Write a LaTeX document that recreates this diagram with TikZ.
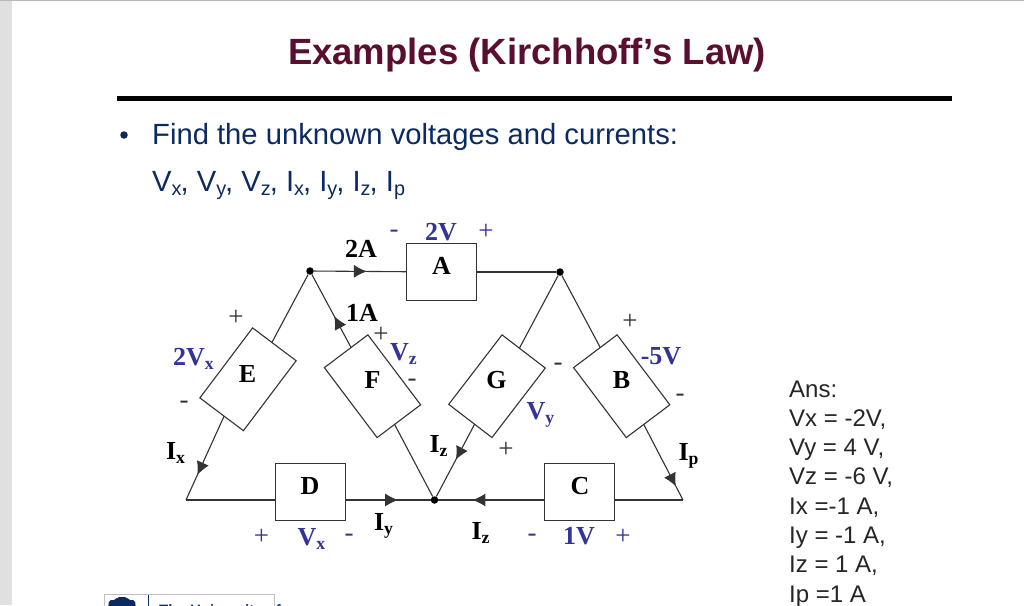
\documentclass[tikz,border=0pt]{standalone}
\usepackage{fontspec}
\usetikzlibrary{arrows.meta,decorations.markings}
\setmainfont{Liberation Sans}
\newfontfamily\circfont{Liberation Serif}
\definecolor{titlered}{HTML}{5A0F30}
\definecolor{slidenavy}{HTML}{0B2A60}
\definecolor{voltblue}{HTML}{333399}
\definecolor{wiregray}{HTML}{333333}
\newcommand{\lowsub}[1]{\raisebox{-0.3ex}{\fontsize{0.68em}{0.68em}\selectfont #1}\kern-1pt}
\tikzset{
  wire/.style={draw=wiregray, line width=1.1pt},
  flowat/.style={postaction={decorate}, decoration={markings, mark=at position #1 with {\arrow{Latex[length=13pt,width=13pt]}}}},
  junction/.style={circle, fill=black, inner sep=0pt, minimum size=7.5pt},
  elembox/.style={draw=wiregray, line width=1.2pt, fill=white, rectangle, inner sep=0pt, outer sep=0pt, minimum width=69.5pt, minimum height=57pt},
  tiltbox/.style={draw=wiregray, line width=1.1pt, fill=white, rectangle, inner sep=0pt, outer sep=0pt, minimum width=87.6pt, minimum height=54.5pt},
  elemlabel/.style={inner sep=0pt, font=\circfont\bfseries\fontsize{26}{26}\selectfont},
  amplabel/.style={elemlabel, text=black},
  voltlabel/.style={elemlabel, text=voltblue},
  signlabel/.style={inner sep=0pt, text=#1, font=\circfont\fontsize{27}{27}\selectfont},
  anslabel/.style={anchor=base west, inner sep=0pt, text=black!85, font=\fontsize{24}{24}\selectfont},
}
\begin{document}
\begin{tikzpicture}[x=1pt, y=-1pt]
\useasboundingbox (0, 0) rectangle (1024, 605);
\fill[white] (0, 0) rectangle (1024, 605);
%Slide edge
\fill[black!12] (0, 0) rectangle (12, 605);
\fill[black!28] (0, 0) rectangle (1024, 1.2);
%Heading
\node (title) [inner sep=0pt, text=titlered, font=\bfseries\fontsize{36.5}{36.5}\selectfont] at (527, 55) {Examples (Kirchhoff’s Law)};
\fill[black] (117, 96) rectangle (952, 100.5);
\node (bullet) [circle, fill=slidenavy, inner sep=0pt, minimum size=7.5pt] at (124, 135) {};
\node (findline) [anchor=west, inner sep=0pt, text=slidenavy, font=\fontsize{29.2}{29.2}\selectfont] at (152, 137) {Find the unknown voltages and currents:};
\node (unknowns) [anchor=base west, inner sep=0pt, text=slidenavy, font=\fontsize{29.2}{29.2}\selectfont] at (152, 191) {V\lowsub{x}, V\lowsub{y}, V\lowsub{z}, I\lowsub{x}, I\lowsub{y}, I\lowsub{z}, I\lowsub{p}};
%Junctions
\node (topleft) [junction] at (310, 271) {};
\node (topright) [junction] at (560, 272) {};
\node (bottommid) [junction] at (434.5, 500) {};
\coordinate (cornerleft) at (186, 500);
\coordinate (cornerright) at (683, 500);
%Elements
\node (boxA) [elembox] at (441.5, 272) {};
\node (boxD) [elembox] at (310.5, 492) {};
\node (boxC) [elembox] at (579.5, 492) {};
\node (boxE) [tiltbox, rotate=53] at (248, 379.3) {};
\node (boxF) [tiltbox, rotate=-53] at (372.5, 386.2) {};
\node (boxG) [tiltbox, rotate=52.5] at (497, 386.2) {};
\node (boxB) [tiltbox, rotate=-53] at (621.7, 386.2) {};
%Wires
\draw[wire, flowat=0.57] (topleft) -- (boxA);
\draw[wire] (boxA) -- (topright);
\draw[wire] (topleft) -- (boxE.4);
\draw[wire, flowat=0.70] (boxE.184) -- (cornerleft);
\draw[wire, flowat=0.43] (boxF.172) -- (topleft);
\draw[wire] (boxF.-7) -- (bottommid);
\draw[wire] (topright) -- (boxG.7);
\draw[wire, flowat=0.49] (boxG.187) -- (bottommid);
\draw[wire] (topright) -- (boxB.172);
\draw[wire, flowat=0.82] (boxB.-7) -- (cornerright);
\draw[wire] (cornerleft) -- (cornerleft -| boxD.west);
\draw[wire, flowat=0.62] (cornerleft -| boxD.east) -- (bottommid);
\draw[wire, flowat=0.68] (cornerright -| boxC.west) -- (bottommid);
\draw[wire] (cornerright -| boxC.east) -- (cornerright);
%Text
\node (nameA) [elemlabel] at (441.5, 265.5) {A};
\node (nameD) [elemlabel] at (310, 486) {D};
\node (nameC) [elemlabel] at (580, 486) {C};
\node (nameE) [elemlabel] at (247.5, 373.5) {E};
\node (nameF) [elemlabel] at (372.5, 380) {F};
\node (nameG) [elemlabel] at (496.5, 380) {G};
\node (nameB) [elemlabel] at (621.5, 380) {B};
\node (amp2A) [amplabel] at (361, 249) {2A};
\node (amp1A) [amplabel] at (362, 313) {1A};
\node (ampIx) [amplabel] at (175, 453) {I\lowsub{x}};
\node (ampIy) [amplabel] at (383, 526) {I\lowsub{y}};
\node (ampIzleft) [amplabel] at (438, 446) {I\lowsub{z}};
\node (ampIzlow) [amplabel] at (480, 533) {I\lowsub{z}};
\node (ampIp) [amplabel] at (688, 456) {I\lowsub{p}};
\node (volt2V) [voltlabel] at (441, 232) {2V};
\node (volt2Vx) [voltlabel] at (193, 359) {2V\lowsub{x}};
\node (voltVz) [voltlabel] at (403, 354) {V\lowsub{z}};
\node (voltVy) [voltlabel] at (540, 415) {V\lowsub{y}};
\node (voltVx) [voltlabel] at (311, 539) {V\lowsub{x}};
\node (volt1V) [voltlabel] at (579, 536) {1V};
\node (volt5V) [voltlabel] at (661, 356) {-5V};
\node (minusA) [signlabel=voltblue] at (394, 234) {-};
\node (plusA) [signlabel=voltblue] at (486, 232) {+};
\node (plusE) [signlabel=black!80] at (236, 317.5) {+};
\node (minusE) [signlabel=black!80] at (184, 405) {-};
\node (plusF) [signlabel=black!80] at (381, 335) {+};
\node (minusF) [signlabel=black!80] at (412, 383) {-};
\node (minusG) [signlabel=black!80] at (558, 367) {-};
\node (plusG) [signlabel=black!80] at (506, 450) {+};
\node (plusB) [signlabel=black!80] at (630, 322) {+};
\node (minusB) [signlabel=black!80] at (680, 398) {-};
\node (plusD) [signlabel=voltblue] at (261.5, 537) {+};
\node (minusD) [signlabel=voltblue] at (349, 538) {-};
\node (minusC) [signlabel=voltblue] at (532, 538) {-};
\node (plusC) [signlabel=voltblue] at (623, 537) {+};
%Answers
\node (ansHead) [anslabel] at (789, 397) {Ans:};
\node (ansVx) [anslabel] at (789, 426.3) {Vx = -2V,};
\node (ansVy) [anslabel] at (789, 455.6) {Vy = 4 V,};
\node (ansVz) [anslabel] at (789, 484.9) {Vz = -6 V,};
\node (ansIx) [anslabel] at (789, 514.2) {Ix =-1 A,};
\node (ansIy) [anslabel] at (789, 543.5) {Iy = -1 A,};
\node (ansIz) [anslabel] at (789, 572.8) {Iz = 1 A,};
\node (ansIp) [anslabel] at (789, 602) {Ip =1 A};
%Footer logo, cut by the page
\begin{scope}
\clip (0, 0) rectangle (1024, 605);
\draw[black!25, line width=1pt] (104, 610) -- (104, 594.5) -- (274, 594.5) -- (274, 610);
\draw[slidenavy, line width=0.8pt] (148, 595) -- (148, 610);
\fill[slidenavy, rounded corners=2pt] (108, 610) -- (109, 600) -- (116, 600) -- (117, 597) -- (127, 597) -- (128, 600) -- (135, 600) -- (136, 610) -- cycle;
\node (footer) [anchor=base west, inner sep=0pt, text=slidenavy, font=\bfseries\fontsize{15}{15}\selectfont] at (159, 615) {The University of};
\end{scope}
\end{tikzpicture}
\end{document}
